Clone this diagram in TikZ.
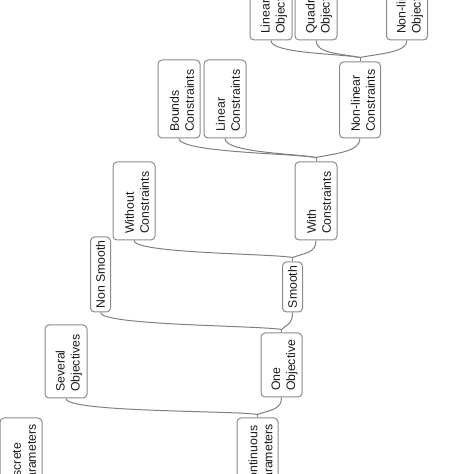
\documentclass[tikz,border=0pt]{standalone}
\usepackage{fontspec}
\setmainfont{Liberation Sans}
\definecolor{boxgray}{HTML}{8A8A8A}
\definecolor{linegray}{HTML}{808080}
\definecolor{textgray}{HTML}{1A1A1A}
\newcommand{\boxstrut}{\rule{0pt}{15pt}}
\begin{document}
\begin{tikzpicture}[x=1pt,y=1pt,
  box/.style 2 args={draw=boxgray, line width=1pt, rounded corners=4pt, rotate=90,
    align=left, inner xsep=6pt, inner ysep=0pt, text width=#1pt, minimum height=#2pt,
    text=textgray, font=\fontsize{12.3}{15}\selectfont},
  onebox/.style 2 args={draw=boxgray, line width=1pt, rounded corners=4pt, rotate=90,
    inner xsep=0pt, inner ysep=0pt, minimum width=#1pt, minimum height=#2pt,
    text=textgray, font=\fontsize{12.3}{15}\selectfont},
  conn/.style={draw=linegray, line width=1pt}]
\useasboundingbox (0,0) rectangle (474,474);
\clip (0,0) rectangle (474,474);

% nodes (rotated text reads bottom to top; .west = bottom, .east = top)
\node[box={53}{42}] (linobj)  at (271,466.5) {\boxstrut Linear\\Objective};
\node[box={54}{42}] (quadobj) at (316,467)   {\boxstrut Quadratic\\Objective};
\node[box={58}{41}] (nlobj)   at (407,469)   {\boxstrut Non-linear\\Objective};
\node[box={66}{42}] (bounds)  at (179,375)   {\boxstrut Bounds\\Constraints};
\node[box={66}{42}] (lincons) at (225,375)   {\boxstrut Linear\\Constraints};
\node[box={64}{41}] (nlcons)  at (360,374)   {\boxstrut Non-linear\\Constraints};
\node[box={66}{42}] (without) at (134,273)   {\boxstrut Without\\Constraints};
\node[box={66}{42}] (with)    at (316,273)   {\boxstrut With\\Constraints};
\node[onebox={75}{20}] (nonsmooth) at (100.5,199.5) {Non Smooth};
\node[onebox={50}{20}] (smooth)  at (292.5,187) {Smooth};
\node[box={61}{42}] (several) at (66,112.5)  {\boxstrut Several\\Objectives};
\node[box={52}{41}] (one)     at (281.5,109) {\boxstrut One\\Objective};
\node[box={64}{42}] (discrete) at (21,18)    {\boxstrut Discrete\\Parameters};
\node[box={64}{41}] (continuous) at (257.5,18) {\boxstrut Continuous\\Parameters};

% junction tips above each parent
\coordinate (tnlcons) at ([yshift=4pt]nlcons.east);
\coordinate (twith)   at ([yshift=4pt]with.east);
\coordinate (tsmooth) at ([yshift=4pt]smooth.east);
\coordinate (tone)    at ([yshift=3pt]one.east);
\coordinate (tcont)   at ([yshift=3pt]continuous.east);

\draw[conn] (nlcons.east) -- (tnlcons);
\draw[conn] (linobj.west)  .. controls +(0,-13) and +(-22,4) .. (tnlcons);
\draw[conn] (quadobj.west) .. controls +(0,-13) and +(-20,4) .. (tnlcons);
\draw[conn] (nlobj.west)   .. controls +(0,-12) and +(20,4) .. (tnlcons);

\draw[conn] (with.east) -- (twith);
\draw[conn] (bounds.west)  .. controls +(0,-14) and +(-22,4) .. (twith);
\draw[conn] (lincons.west) .. controls +(0,-14) and +(-22,4) .. (twith);
\draw[conn] (nlcons.west)  .. controls +(0,-13) and +(20,4) .. (twith);

\draw[conn] (smooth.east) -- (tsmooth);
\draw[conn] (without.west) .. controls +(0,-13) and +(-22,4) .. (tsmooth);
\draw[conn] (with.west)    .. controls +(0,-12) and +(14,5) .. (tsmooth);

\draw[conn] (one.east) -- (tone);
\draw[conn] (nonsmooth.west) .. controls +(0,-13) and +(-22,4) .. (tone);
\draw[conn] (smooth.west)    .. controls +(0,-11) and +(7,6) .. (tone);

\draw[conn] (continuous.east) -- (tcont);
\draw[conn] (several.west) .. controls +(0,-14) and +(-22,4) .. (tcont);
\draw[conn] (one.west)     .. controls +(0,-12) and +(14,5) .. (tcont);
\end{tikzpicture}
\end{document}
